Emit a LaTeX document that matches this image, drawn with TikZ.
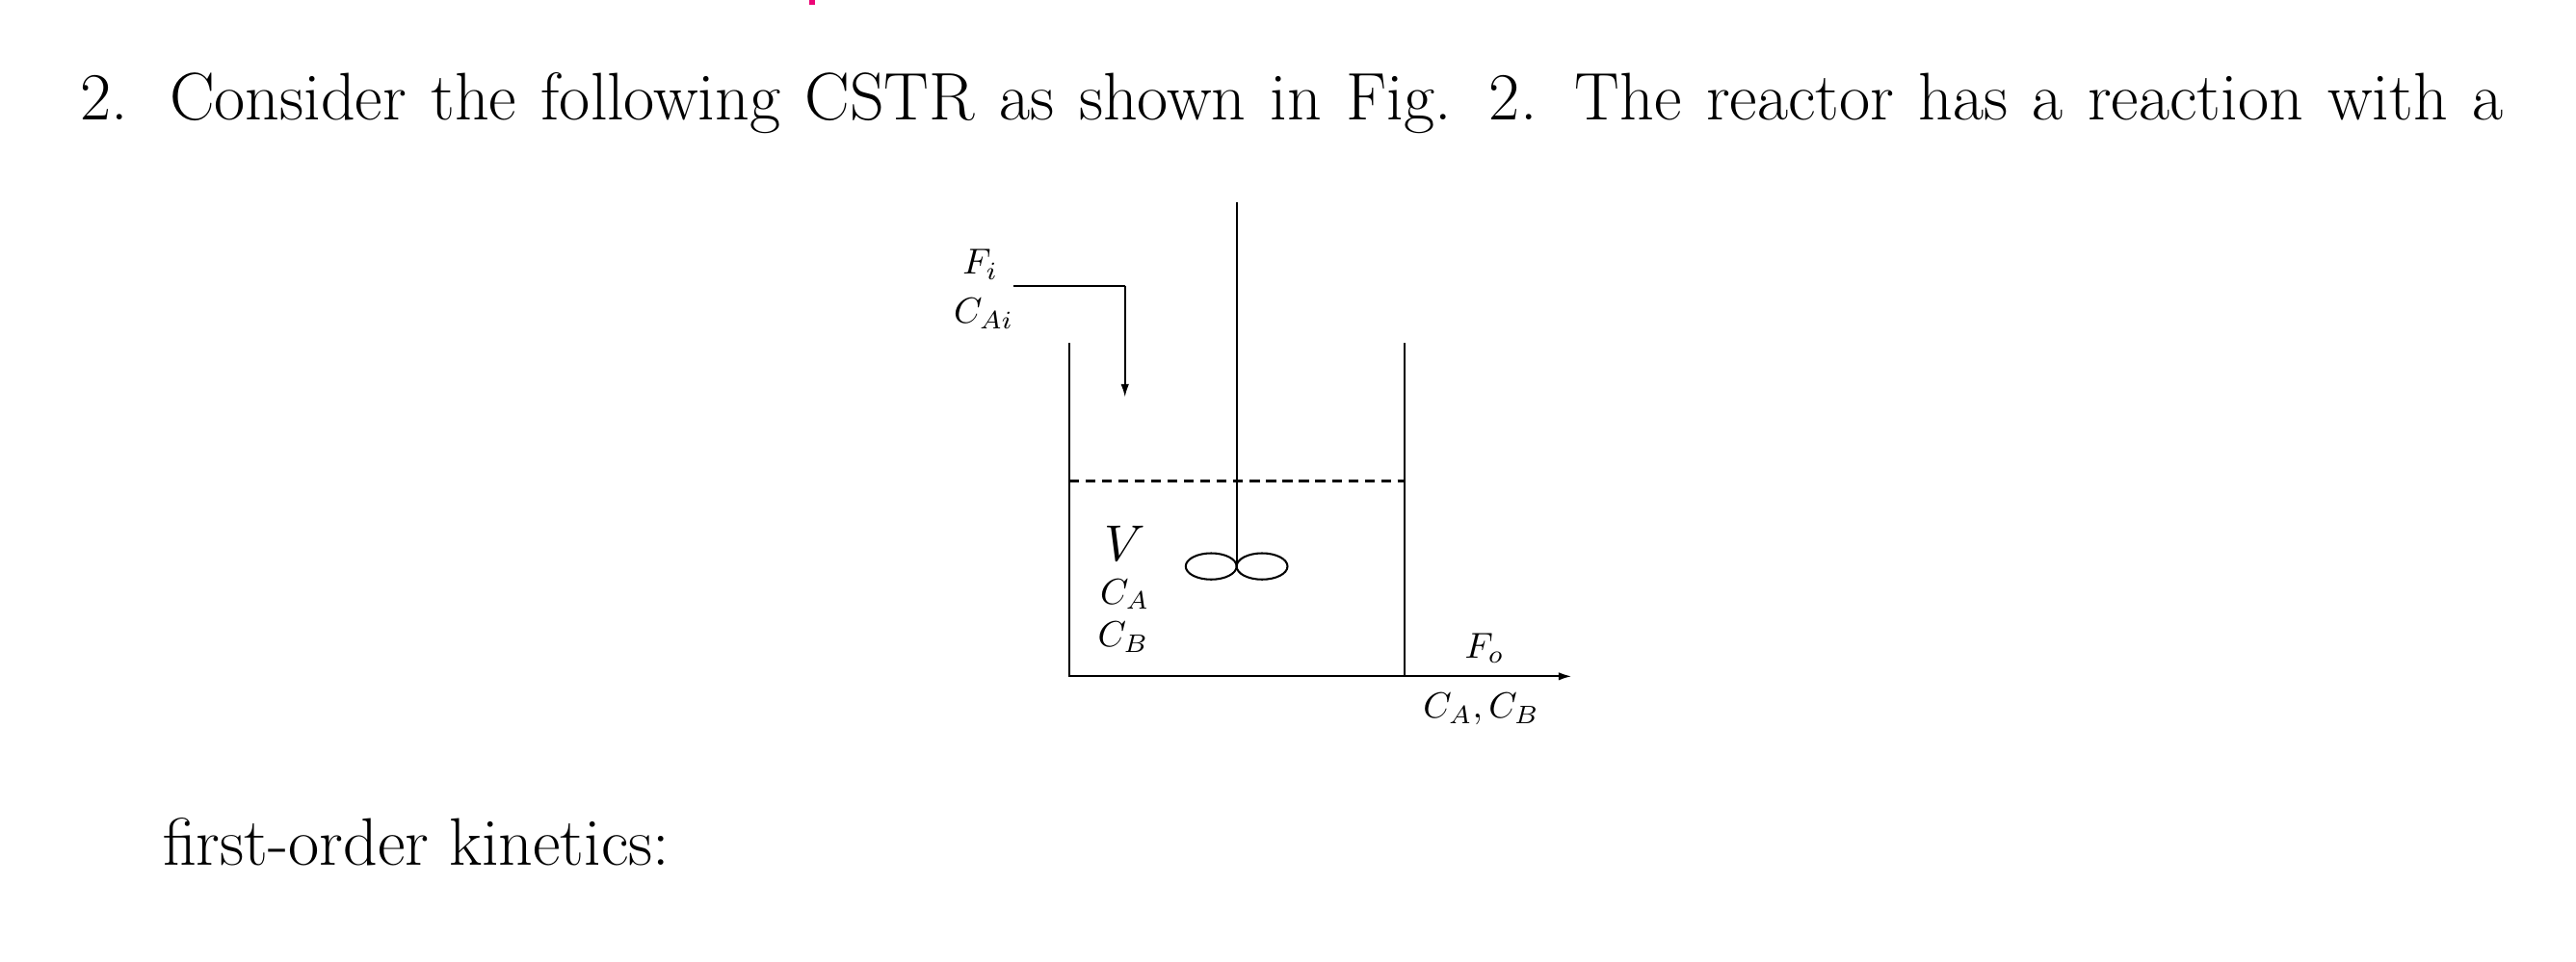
\documentclass[tikz,border=0pt]{standalone}
\usepackage{graphicx}
\usetikzlibrary{arrows.meta}
\begin{document}
\begin{tikzpicture}[x=1pt,y=-1pt,
  ln/.style={line width=1.2pt},
  arr/.style={ln,-{Latex[length=8pt,width=5pt]}},
  lab/.style={inner sep=0pt},
  bigtext/.style={inner sep=0pt,anchor=base west,font=\fontsize{41}{48}\selectfont}]
\useasboundingbox (0,0) rectangle (1568.6,586);
\fill[magenta!80!red] (493,0) rectangle (496,3);
\node[bigtext] (head) at (49,73) {\makebox[1475pt][s]{2.\hspace{0.25em}\ Consider the following CSTR as shown in Fig.\hspace{0.2em}\ 2.\hspace{0.2em}\ The reactor has a reaction with a}};
\node[bigtext] (tail) at (99,527) {first-order kinetics:};
% tank
\coordinate (lt) at (651,209);
\coordinate (lb) at (651,412);
\coordinate (rt) at (855,209);
\coordinate (rb) at (855,412);
\coordinate (out) at (957,412);
\draw[ln] (lt) -- (lb) -- (rb) -- (rt);
\draw[arr] (rb) -- (out);
\coordinate (dl) at (651,293);
\coordinate (dr) at (855,293);
\draw[ln,dash pattern=on 6pt off 4pt] (dl) -- (dr);
% stirrer
\coordinate (st) at (753,123);
\coordinate (sb) at (753,345);
\draw[ln] (st) -- (sb);
\draw[ln] (737.5,345) ellipse [x radius=15.5pt, y radius=8pt];
\draw[ln] (768.5,345) ellipse [x radius=15.5pt, y radius=8pt];
% feed
\coordinate (f0) at (617,174);
\coordinate (f1) at (685,174);
\coordinate (f2) at (685,242);
\draw[ln] (f0) -- (f1);
\draw[arr] (f1) -- (f2);
% labels
\node[lab] (fi) at (597,161) {\scalebox{2.2}{$F_i$}};
\node[lab] (cai) at (599,191) {\scalebox{2.2}{$C_{Ai}$}};
\node[lab] (v) at (685,331) {\scalebox{3.1}{$V$}};
\node[lab] (ca) at (685,362) {\scalebox{2.2}{$C_A$}};
\node[lab] (cb) at (684,388) {\scalebox{2.2}{$C_B$}};
\node[lab] (fo) at (904,395) {\scalebox{2.2}{$F_o$}};
\node[lab] (cacb) at (902,432) {\scalebox{2.2}{$C_A,C_B$}};
\end{tikzpicture}
\end{document}
